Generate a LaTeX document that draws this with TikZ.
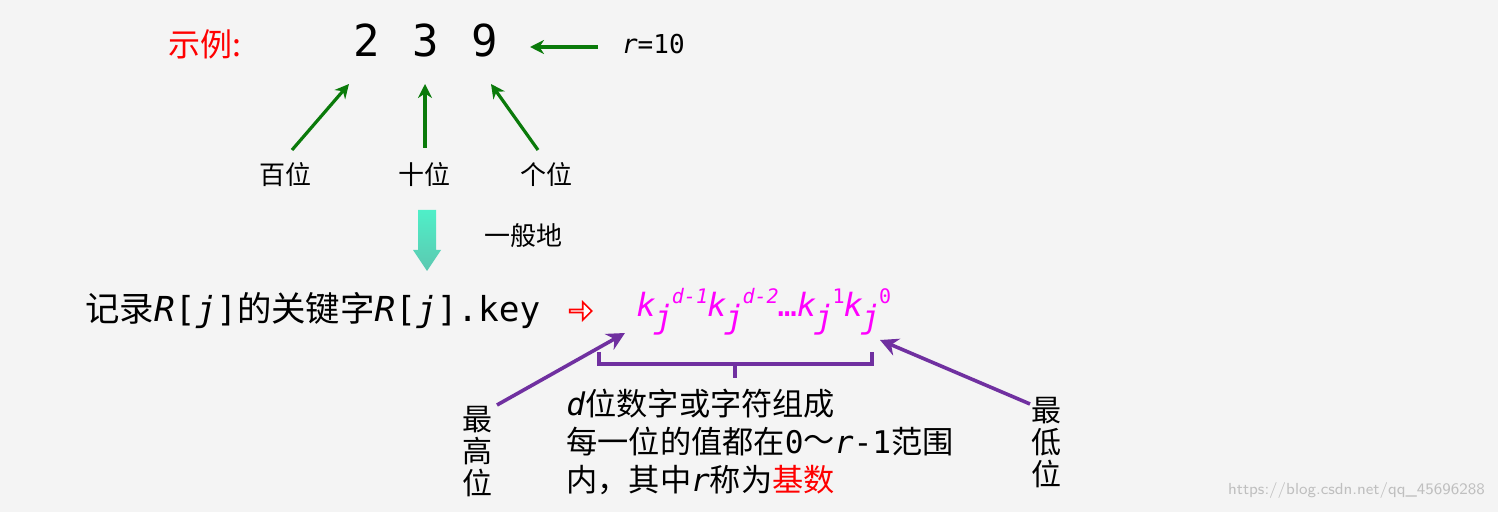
\documentclass[tikz,border=0pt]{standalone}
\usepackage{fontspec}
\setmainfont{DejaVu Sans Mono}
\newfontfamily\cjk{Noto Sans CJK SC}
\newfontfamily\mono{DejaVu Sans Mono}
\usetikzlibrary{arrows.meta,shapes.arrows}
\definecolor{bg}{HTML}{F4F4F4}
\definecolor{grn}{HTML}{0A7A0A}
\definecolor{pur}{HTML}{7030A0}
\definecolor{mag}{HTML}{FF00FF}
\definecolor{tq1}{HTML}{4FEFC8}
\definecolor{tq2}{HTML}{5CC8B0}
\begin{document}
\begin{tikzpicture}[x=0.5pt,y=-0.5pt,
  garrow/.style={draw=grn,line width=1.6pt,-{Stealth[length=7pt,width=7pt]}},
  parrow/.style={draw=pur,line width=1.8pt,-{Stealth[length=9pt,width=9pt]}},
  lbl/.style={font=\cjk\fontsize{13}{15}\selectfont,inner sep=1pt}]
\fill[bg] (0,0) rectangle (1498,512);
\useasboundingbox (0,0) rectangle (1498,512);
\node[font=\cjk\fontsize{16}{18}\selectfont,text=red] (ex) at (205,44) {示例:};
\node[font=\mono\fontsize{22}{24}\selectfont] (d2) at (367,40) {2};
\node[font=\mono\fontsize{22}{24}\selectfont] (d3) at (426,40) {3};
\node[font=\mono\fontsize{22}{24}\selectfont] (d9) at (485,40) {9};
\node[font=\mono\fontsize{13}{15}\selectfont,anchor=west] (r) at (615,44) {\textit{r}=10};
\coordinate (ra) at (598,47);
\draw[garrow] (ra) -- (530,47);
\node[lbl] (bai) at (285,175) {百位};
\node[lbl] (shi) at (424,175) {十位};
\node[lbl] (ge) at (546,175) {个位};
\draw[garrow] (292,150) -- (349,84);
\draw[garrow] (425,148) -- (425,84);
\draw[garrow] (538,150) -- (491,84);
\shade[top color=tq1,bottom color=tq2] (418,210) -- (436,210) -- (436,250) -- (441,250) -- (427,271) -- (413,250) -- (418,250) -- cycle;
\node[lbl,anchor=west] (yb) at (482,236) {一般地};
\node[anchor=west,inner sep=0pt] (rec) at (85,311) {\fontsize{17.2}{19}\selectfont{\cjk 记录}\textit{R}[\textit{j}]{\cjk 的关键字}\textit{R}[\textit{j}].key};
\node[single arrow,draw=red,fill=white,line width=0.8pt,minimum width=9pt,minimum height=11pt,single arrow head extend=2pt,inner sep=0pt] (ra2) at (580,311) {};
\node[anchor=west,inner sep=0pt,text=mag] (kk) at (636,312) {\fontsize{16}{18}\selectfont\itshape k\kern-1pt$_{\textit{j}}$\kern-1pt\textsuperscript{\fontsize{10}{12}\selectfont\textit{d}-1}\kern-1pt k\kern-1pt$_{\textit{j}}$\kern-1pt\textsuperscript{\fontsize{10}{12}\selectfont\textit{d}-2}\kern-1pt\upshape…\itshape k\kern-1pt$_{\textit{j}}$\kern-1pt\textsuperscript{\fontsize{10}{12}\selectfont\upshape 1}\kern-1pt k\kern-1pt$_{\textit{j}}$\kern-1pt\textsuperscript{\fontsize{10}{12}\selectfont\upshape 0}};
\draw[pur,line width=1.8pt] (599,352) -- (599,364) -- (872,364) -- (872,352);
\draw[pur,line width=1.8pt] (735,364) -- (735,378);
\node[lbl,align=center,font=\cjk\fontsize{15}{16}\selectfont] (zg) at (477,452) {最\\高\\位};
\node[lbl,align=center,font=\cjk\fontsize{15}{16}\selectfont] (zd) at (1046,443) {最\\低\\位};
\draw[parrow] (497,405) -- (625,333);
\draw[parrow] (1030,404) -- (880,340);
\node[anchor=north west,align=left,inner sep=0pt,font=\fontsize{15.6}{19}\selectfont] (desc) at (566,389) {\textit{d}{\cjk 位数字或字符组成}\\{\cjk 每一位的值都在}0\raisebox{1pt}{\cjk ～}\textit{r}-1{\cjk 范围}\\{\cjk 内，其中}\textit{r}{\cjk 称为}{\cjk\color{red}基数}};
\node[anchor=south east,text=white!75!black,font=\fontsize{8}{9}\selectfont\sffamily] (wm) at (1492,506) {https://blog.csdn.net/qq\_45696288};
\end{tikzpicture}
\end{document}
